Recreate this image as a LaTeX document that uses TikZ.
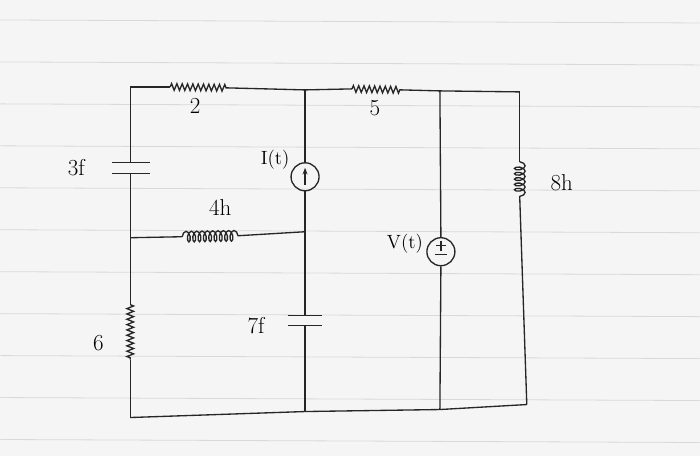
\documentclass[tikz,border=0pt]{standalone}
\usetikzlibrary{decorations.pathmorphing,arrows.meta}
\begin{document}
\begin{tikzpicture}[x=0.0264cm,y=-0.0264cm,
  wire/.style={line width=1pt,black!85},
  res/.style={wire,decorate,decoration={zigzag,segment length=4pt,amplitude=2.5pt}},
  ind/.style={wire,decorate,decoration={coil,segment length=4pt,amplitude=4pt,aspect=0.5}},
  lbl/.style={font=\LARGE},
  src/.style={draw,wire,circle,minimum size=0.74cm,inner sep=0pt}]
\fill[black!4] (0,0) rectangle (700,457);
\foreach \y in {20,62,104,146,188,230,272,314,356,398,440}
  \draw[black!15,line width=0.6pt] (0,\y) -- (700,\y+3);
\useasboundingbox (0,0) rectangle (700,457);
\coordinate (TL) at (130,87); \coordinate (TM) at (305,90);
\coordinate (TV) at (440,91); \coordinate (TR) at (520,92);
\coordinate (BL) at (130,418); \coordinate (BM) at (305,412);
\coordinate (BV) at (440,410); \coordinate (BR) at (527,405);
\coordinate (ML) at (130,238); \coordinate (MM) at (305,232);
\coordinate (r2a) at (170,87); \coordinate (r2b) at (228,88);
\coordinate (r5a) at (352,89); \coordinate (r5b) at (402,90);
\coordinate (c3a) at (130,163); \coordinate (c3b) at (130,174);
\coordinate (r6a) at (130,305); \coordinate (r6b) at (130,360);
\coordinate (l4a) at (182,237); \coordinate (l4b) at (238,236);
\coordinate (c7a) at (305,316); \coordinate (c7b) at (305,326);
\coordinate (l8a) at (520,162); \coordinate (l8b) at (520,200);
\node[src] (I) at (305,177) {};
\node[src] (V) at (441,252) {};
\draw[wire] (TL) -- (r2a); \draw[res] (r2a) -- (r2b); \draw[wire] (r2b) -- (TM) -- (r5a);
\draw[res] (r5a) -- (r5b); \draw[wire] (r5b) -- (TV) -- (TR);
\draw[wire] (TL) -- (c3a); \draw[wire] (112,163) -- (150,163); \draw[wire] (112,174) -- (150,174);
\draw[wire] (c3b) -- (ML) -- (r6a); \draw[res] (r6a) -- (r6b); \draw[wire] (r6b) -- (BL);
\draw[wire] (ML) -- (l4a); \draw[ind] (l4a) -- (l4b); \draw[wire] (l4b) -- (MM);
\draw[wire] (TM) -- (I.north); \draw[wire] (I.south) -- (MM) -- (c7a);
\draw[wire] (288,316) -- (322,316); \draw[wire] (288,326) -- (322,326);
\draw[wire] (c7b) -- (BM);
\draw[wire,-{Stealth[length=5pt]}] (305,185) -- (305,168);
\draw[wire] (TV) -- (V.north); \draw[wire] (V.south) -- (BV);
\draw[wire] (441,241) -- (441,251); \draw[wire] (436,246) -- (446,246);
\draw[wire] (435,255) -- (447,255);
\draw[wire] (TR) -- (l8a); \draw[ind] (l8a) -- (l8b); \draw[wire] (l8b) -- (BR);
\draw[wire] (BL) -- (BM) -- (BV) -- (BR);
\node[lbl] at (195,106) {2};
\node[lbl] at (375,108) {5};
\node[lbl] at (76,168) {3f};
\node[lbl] at (220,208) {4h};
\node[lbl] at (98,343) {6};
\node[font=\Large] at (275,160) {I(t)};
\node[lbl] at (256,326) {7f};
\node[font=\Large] at (405,244) {V(t)};
\node[lbl] at (562,183) {8h};
\end{tikzpicture}
\end{document}
